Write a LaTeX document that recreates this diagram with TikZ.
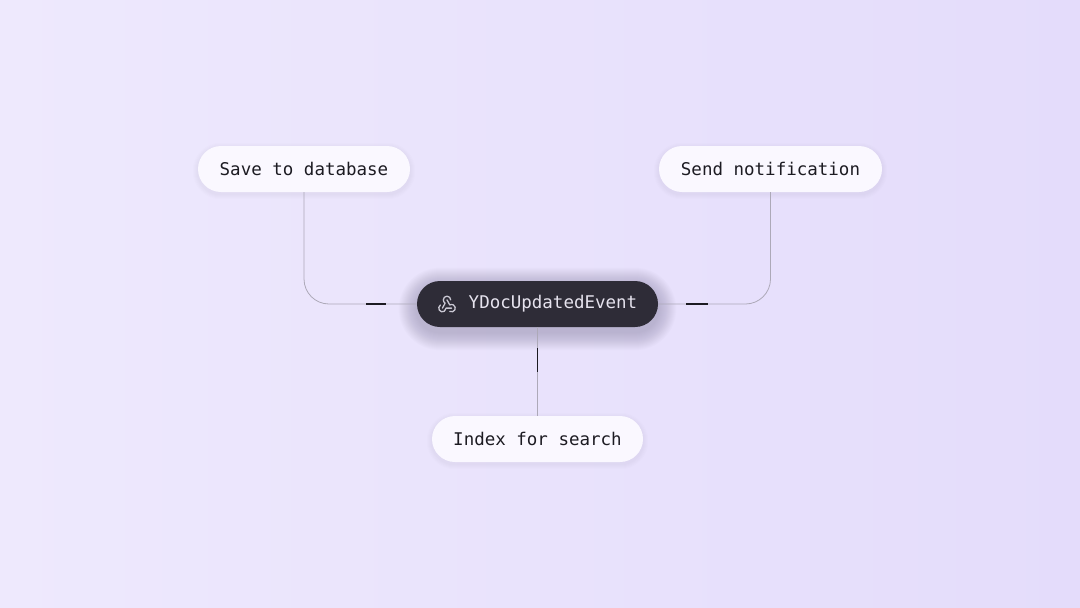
\documentclass[tikz,border=0pt]{standalone}
\usepackage{fontspec}
\setmonofont{DejaVu Sans Mono}
\definecolor{bgA}{HTML}{EEE9FD}
\definecolor{bgB}{HTML}{E4DCFB}
\definecolor{pill}{HTML}{FAF8FF}
\definecolor{dark}{HTML}{2E2C37}
\definecolor{wire}{HTML}{ADA9B8}
\definecolor{ink}{HTML}{1C1B22}
\definecolor{lightink}{HTML}{E6E3EE}
\definecolor{shadowc}{HTML}{4A4466}
\pgfdeclarelayer{bg}
\pgfdeclarelayer{shadowlayer}
\pgfsetlayers{bg,shadowlayer,main}
\tikzset{
  pillbox/.style={rounded corners=23pt, minimum height=46pt, inner sep=0pt,
    fill=pill, font=\ttfamily\fontsize{17.5}{19}\selectfont, text=ink},
  eventbox/.style={pillbox, fill=dark},
  wireline/.style={draw=wire, line width=0.8pt, rounded corners=25pt},
  pulse/.style={draw=ink, line width=1.2pt},
  iconline/.style={draw=lightink!85!dark, line width=1.3pt, line cap=round, line join=round}
}
\newcommand\mysoftshadow[4]{%
  \foreach \i [evaluate=\i as \rc using 23+\i] in {1,...,#2}{%
    \fill[shadowc, opacity=#3, rounded corners=\rc pt]
      ([xshift=-\i pt, yshift=-#4-\i pt]#1.south west) rectangle
      ([xshift=\i pt, yshift=-#4+\i pt]#1.north east);}}
\begin{document}
\begin{tikzpicture}[x=1pt,y=-1pt]
\useasboundingbox (0,0) rectangle (1080,608);
\begin{pgfonlayer}{bg}
\shade[left color=bgA, right color=bgB] (0,0) rectangle (1080,608);
\foreach \k in {1,...,20}{
  \fill[white, opacity=0.018] (540,110) ellipse ({19*\k} and {12*\k});
}
\foreach \k in {1,...,12}{
  \fill[white, opacity=0.014] (420,560) ellipse ({20*\k} and {9*\k});
}
\end{pgfonlayer}

% nodes
\node[pillbox, minimum width=212pt] (save) at (304,169) {Save to database};
\node[pillbox, minimum width=223pt] (notify) at (770.5,169) {Send notification};
\node[pillbox, minimum width=211pt] (index) at (537.5,439) {Index for search};
\node[eventbox, minimum width=241pt] (event) at (537.5,304) {};
\node[font=\ttfamily\fontsize{17.5}{19}\selectfont, text=lightink, inner sep=0pt] (eventtext) at (553,304) {YDocUpdatedEvent};

\begin{pgfonlayer}{shadowlayer}
\mysoftshadow{save}{5}{0.012}{2pt}
\mysoftshadow{notify}{5}{0.012}{2pt}
\mysoftshadow{index}{5}{0.012}{2pt}
\mysoftshadow{event}{18}{0.014}{5pt}
\end{pgfonlayer}

% connectors
\draw[wireline] (save.south) -- (save.south |- event.west) -- (event.west);
\draw[wireline] (notify.south) -- (notify.south |- event.east) -- (event.east);
\draw[wireline] (event.south) -- (index.north);

% pulses
\coordinate (p1a) at (366,304); \coordinate (p1b) at (386,304);
\coordinate (p2a) at (686,304); \coordinate (p2b) at (708,304);
\coordinate (p3a) at (537.5,348); \coordinate (p3b) at (537.5,372);
\draw[pulse] (p1a) -- (p1b);
\draw[pulse] (p2a) -- (p2b);
\draw[pulse] (p3a) -- (p3b);

% webhook icon
\coordinate (ic) at (447,304);
\begin{scope}[shift={(ic)}, scale=0.92, shift={(-12,-12.5)}]
  \draw[iconline] (4.876,13.61) arc[start angle=-122, end angle=-360, radius=4] -- (17,17);
  \draw[iconline] (15.066,20.502) arc[start angle=-241, end angle=-450, radius=4]
     .. controls (16.294,13) and (15.576,13.179) .. (15,13.5) -- (12,8);
  \draw[iconline] (16,8) arc[start angle=0, end angle=-180, radius=4]
     .. controls (8,9.506) and (8.77,10.818) .. (10,11.5) -- (7,17);
\end{scope}
\end{tikzpicture}
\end{document}
